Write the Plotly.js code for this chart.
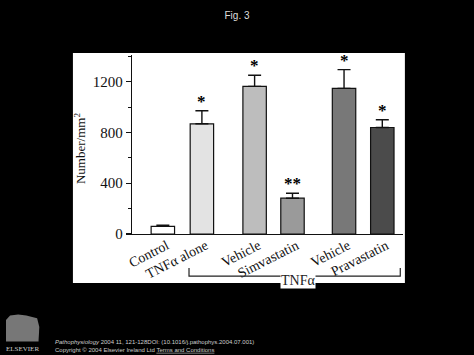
<!DOCTYPE html>
<html><head><meta charset="utf-8">
<script src="https://cdn.plot.ly/plotly-3.0.1.min.js"></script>
<style>html,body{margin:0;padding:0;background:#000;}#chart{width:474px;height:355px;}</style>
</head><body><div id="chart"></div>
<script>
const categories = ['Control', 'TNFα alone', 'Vehicle', 'Simvastatin', 'Vehicle', 'Pravastatin'];
const xPositions = [0, 1, 2.35, 3.32, 4.64, 5.62];
const values = [60, 868, 1163, 282, 1147, 839];
const errorsPlus = [10, 103, 87, 39, 148, 61];
const significance = ['', '*', '*', '**', '*', '*'];
const barColors = ['#ffffff', '#e3e3e3', '#bdbdbd', '#9a9a9a', '#787878', '#4b4b4b'];
const yTicks = [0, 400, 800, 1200];

const serif = 'Liberation Serif, Times New Roman, serif';

const bars = {
  type: 'bar', x: xPositions, y: values, width: 0.6,
  marker: {color: barColors, line: {color: '#111', width: 1.2}},
  error_y: {type: 'data', symmetric: false, array: errorsPlus,
            arrayminus: values.map(() => 0), color: '#111', thickness: 1.4, width: 6.5},
  hoverinfo: 'skip', showlegend: false
};

const starAnnotations = [];
xPositions.forEach((x, i) => {
  if (!significance[i]) return;
  starAnnotations.push({
    xref: 'x', yref: 'y', x: x, y: values[i] + errorsPlus[i], xanchor: 'center', yanchor: 'bottom', yshift: -2,
    text: '<b>' + significance[i] + '</b>', showarrow: false,
    font: {family: serif, size: 17, color: '#000'}
  });
});

const layout = {
  width: 474, height: 355,
  margin: {l: 132, r: 71, t: 55, b: 121},
  paper_bgcolor: '#000', plot_bgcolor: 'rgba(0,0,0,0)',
  title: {text: 'Fig. 3', x: 0.5, xref: 'container', xanchor: 'center', y: 0.965, yref: 'container',
          font: {family: 'Liberation Sans, Arial, sans-serif', size: 10, color: '#dddddd'}},
  xaxis: {range: [-0.79, 6.15], tickvals: xPositions, ticktext: categories, tickangle: -27,
          ticklabelshift: 4, ticklabelstandoff: -3,
          showgrid: false, zeroline: false, showline: true, linecolor: '#111', linewidth: 1.2,
          ticks: '', tickfont: {family: serif, size: 14, color: '#111'}, fixedrange: true},
  yaxis: {range: [0, 1410], tickvals: yTicks, showgrid: false, zeroline: false,
          showline: true, linecolor: '#111', linewidth: 1.2,
          ticks: 'outside', ticklen: 5, tickcolor: '#111', tickwidth: 1.2,
          minor: {dtick: 200, ticks: 'outside', ticklen: 3, tickcolor: '#111', tickwidth: 1},
          tickfont: {family: serif, size: 15, color: '#111'},
          fixedrange: true},
  shapes: [
    {type: 'rect', xref: 'paper', yref: 'paper', x0: -0.218, x1: 1.007, y0: -0.274, y1: 1.011,
     fillcolor: '#ffffff', line: {width: 0}, layer: 'below'},
    {type: 'path', xref: 'x', yref: 'paper',
     path: 'M 0.67 -0.19 L 0.67 -0.235 L 6.08 -0.235 L 6.08 -0.19',
     line: {color: '#222', width: 1.2}},
    {type: 'path', xref: 'paper', yref: 'paper',
     path: 'M -0.465 -0.6 L -0.465 -0.48 L -0.45 -0.455 L -0.42 -0.45 L -0.39 -0.455 L -0.35 -0.47 L -0.342 -0.52 L -0.345 -0.6 Z',
     fillcolor: '#8c8c8c', line: {width: 0}, opacity: 0.85}
  ],
  annotations: starAnnotations.concat([
    {xref: 'paper', yref: 'paper', x: -0.192, y: 0.48, xanchor: 'center', yanchor: 'middle',
     textangle: -90, text: 'Number/mm<sup>2</sup>', showarrow: false,
     font: {family: serif, size: 13, color: '#111'}},
    {xref: 'x', yref: 'paper', x: 3.46, y: -0.262, xanchor: 'center', yanchor: 'middle', text: 'TNFα', showarrow: false,
     font: {family: serif, size: 14, color: '#222'}, bgcolor: '#ffffff', borderpad: 0},
    {xref: 'paper', yref: 'paper', x: -0.405, y: -0.61, xanchor: 'center', yanchor: 'top', text: 'ELSEVIER', showarrow: false,
     font: {family: serif, size: 7, color: '#cccccc'}},
    {xref: 'paper', yref: 'paper', x: -0.292, y: -0.628, xanchor: 'left', yanchor: 'middle', align: 'left', showarrow: false,
     text: '<i>Pathophysiology</i> 2004 11, 121-128DOI: (10.1016/j.pathophys.2004.07.001)<br>Copyright © 2004 Elsevier Ireland Ltd <u>Terms and Conditions</u>',
     font: {family: 'Liberation Sans, Arial, sans-serif', size: 6, color: '#cccccc'}}
  ])
};
Plotly.newPlot('chart', [bars], layout, {staticPlot: true, displayModeBar: false});
</script></body></html>
